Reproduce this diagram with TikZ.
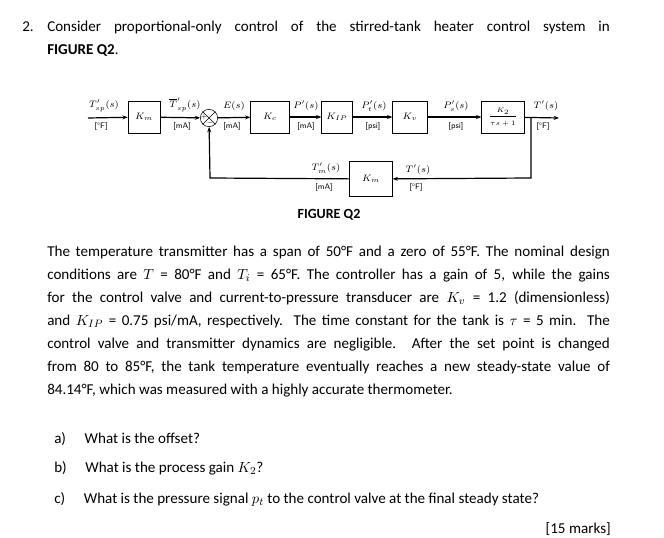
\documentclass[tikz,border=0pt]{standalone}
\usepackage{fontspec}
\setmainfont{Carlito}
\usetikzlibrary{arrows.meta}
\begin{document}
\begin{tikzpicture}[x=0.75pt,y=-0.75pt,
  blk/.style={draw,minimum width=#1,minimum height=24pt,inner sep=0pt,font=\scriptsize},
  sig/.style={-{Stealth[length=4pt]},line width=0.9pt},
  lab/.style={font=\scriptsize,inner sep=1pt},
  unit/.style={font=\fontsize{6}{7}\sffamily,inner sep=1pt},
  txt/.style={anchor=base west,inner sep=0pt,font=\fontsize{11.3}{13}\selectfont}]
\useasboundingbox (0,0) rectangle (664,538);
% title
\node[txt] (n2) at (22,32) {2.};
\node[txt] (t1) at (47,32) {\makebox[422pt][s]{Consider proportional-only control of the stirred-tank heater control system in}};
\node[txt] (t2) at (47,55) {\textbf{FIGURE Q2}.};
% diagram
\coordinate (in) at (88,118);
\node[blk=24pt] (km1) at (144,117) {$K_m$};
\node[draw,circle,minimum size=13pt,inner sep=0pt] (sum) at (209,118) {};
\draw (sum.north west) -- (sum.south east) (sum.north east) -- (sum.south west);
\node[font=\fontsize{4}{4}\selectfont] at (204,117) {$+$};
\node[font=\fontsize{4}{4}\selectfont] at (210,123) {$-$};
\node[blk=29pt] (kc) at (270,117) {$K_c$};
\node[blk=23pt] (kip) at (337,117) {$K_{IP}$};
\node[blk=26pt] (kv) at (410,117) {$K_v$};
\node[blk=32pt,font=\tiny] (k2) at (503,117) {$\displaystyle\frac{K_2}{\tau s+1}$};
\coordinate (out) at (559,118);
\coordinate (br) at (531,118);
\node[blk=32pt,minimum height=26pt] (km2) at (371,179) {$K_m$};
\coordinate (c1) at (531,178);
\coordinate (c2) at (210,178);
\draw[sig] (in) -- (km1);
\draw[sig] (km1) -- (sum);
\draw[sig] (sum) -- (kc);
\draw[sig] (kc) -- (kip);
\draw[sig] (kip) -- (kv);
\draw[sig] (kv) -- (k2);
\draw[sig] (k2) -- (out);
\draw[sig] (br) -- (c1) -- (km2);
\draw[sig] (km2) -- (c2) -- (sum);
\node[lab] at (104,106) {$T'_{sp}(s)$};
\node[unit] at (101,127) {[°F]};
\node[lab] at (185,105) {$\overline{T}'_{sp}(s)$};
\node[unit] at (182,127) {[mA]};
\node[lab] at (234,106) {$E(s)$};
\node[unit] at (232,127) {[mA]};
\node[lab] at (306,106) {$P'(s)$};
\node[unit] at (306,127) {[mA]};
\node[lab] at (374,106) {$P'_t(s)$};
\node[unit] at (373,127) {[psi]};
\node[lab] at (456,106) {$P'_s(s)$};
\node[unit] at (456,127) {[psi]};
\node[lab] at (546,106) {$T'(s)$};
\node[unit] at (543,127) {[°F]};
\node[lab] at (326,168) {$T'_m(s)$};
\node[unit] at (324,188) {[mA]};
\node[lab] at (418,170) {$T'(s)$};
\node[unit] at (416,188) {[°F]};
\node[font=\fontsize{10.5}{12}\bfseries\selectfont] (cap) at (329,215) {FIGURE Q2};
% paragraph
\node[txt,text width=422pt,align=justify,anchor=north west] (p) at (47,246) {\fontsize{11.3}{17.25}\selectfont
The temperature transmitter has a span of 50°F and a zero of 55°F. The nominal design\linebreak
conditions are $T$ = 80°F and $T_i$ = 65°F. The controller has a gain of 5, while the gains\linebreak
for the control valve and current-to-pressure transducer are $K_v$ = 1.2 (dimensionless)\linebreak
and $K_{IP}$ = 0.75 psi/mA, respectively. The time constant for the tank is $\tau$ = 5 min. The\linebreak
control valve and transmitter dynamics are negligible. After the set point is changed\linebreak
from 80 to 85°F, the tank temperature eventually reaches a new steady-state value of\linebreak
84.14°F, which was measured with a highly accurate thermometer.\par};
\node[txt] (qa) at (54,443) {a)\hspace{14pt}What is the offset?};
\node[txt] (qb) at (54,472) {b)\hspace{14pt}What is the process gain $K_2$?};
\node[txt] (qc) at (54,503) {c)\hspace{14pt}What is the pressure signal $p_t$ to the control valve at the final steady state?};
\node[txt,anchor=base east] (mk) at (611,533) {[15 marks]};
\end{tikzpicture}
\end{document}
